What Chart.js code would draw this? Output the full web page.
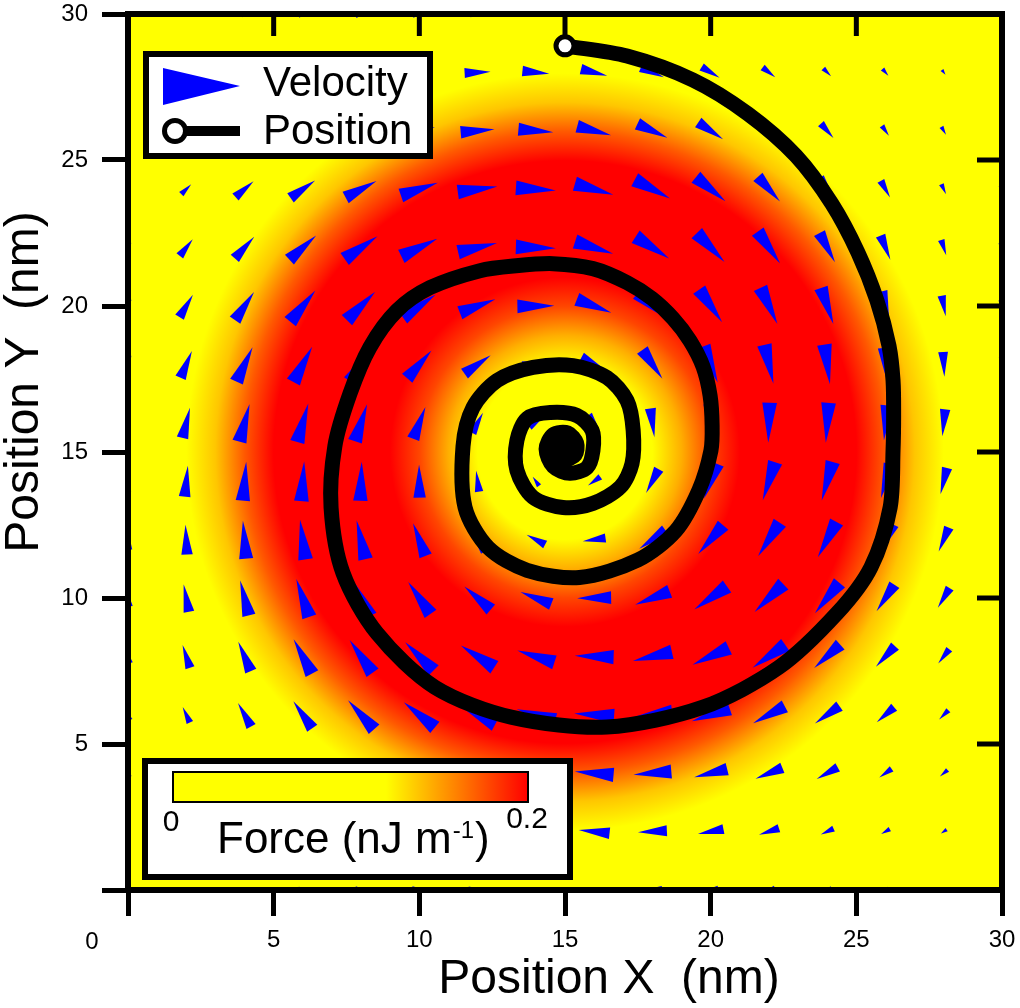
<!DOCTYPE html>
<html>
<head>
<meta charset="utf-8">
<title>Velocity and position</title>
<style>
  html, body { margin: 0; padding: 0; background: #fff; }
  #wrap { width: 1020px; height: 1008px; }
</style>
</head>
<body>
<div id="wrap"><canvas id="chart" width="1020" height="1008"></canvas></div>
<script src="https://cdn.jsdelivr.net/npm/chart.js"></script>
<script>
// axis ticks (nm)
var tickValues = [0, 5, 10, 15, 20, 25, 30];

// velocity grid, rows follow gridY (top to bottom)
var gridX = [0, 2, 4, 6, 8, 10, 12, 14, 16, 18, 20, 22, 24, 26, 28, 30];
var gridY = [30, 28, 26, 24, 22, 20, 18, 16, 14, 12, 10, 8, 6, 4, 2, 0];

// arrow direction, degrees counter-clockwise from +x
var arrowAngle = [
  [35, 31, 26, 21, 15, 8, 1, -6, -14, -21, -28, -35, -41, -46, -51, -55],
  [39, 35, 30, 25, 18, 11, 3, -6, -14, -23, -31, -38, -45, -50, -55, -59],
  [44, 40, 35, 29, 23, 14, 5, -5, -15, -25, -34, -43, -49, -55, -60, -64],
  [49, 45, 41, 35, 28, 19, 8, -4, -16, -28, -39, -48, -55, -61, -65, -69],
  [55, 52, 48, 42, 35, 26, 13, -2, -18, -33, -46, -55, -62, -68, -72, -75],
  [62, 59, 56, 51, 45, 35, 21, 1, -21, -41, -55, -65, -71, -76, -79, -82],
  [69, 67, 65, 62, 57, 49, 35, 8, -28, -55, -69, -77, -82, -85, -87, -89],
  [76, 76, 75, 74, 72, 69, 62, 35, -55, -82, -89, -92, -94, -95, -96, -96],
  [84, 84, 85, 86, 88, 91, 98, 125, -145, -118, -111, -108, -106, -105, -104, -104],
  [91, 93, 95, 98, 103, 111, 125, 152, -172, -145, -131, -123, -118, -115, -113, -111],
  [98, 101, 104, 109, 116, 125, 139, 159, -179, -159, -145, -136, -129, -124, -121, -118],
  [105, 108, 113, 118, 125, 135, 147, 162, 178, -167, -155, -145, -138, -133, -128, -125],
  [111, 115, 119, 125, 132, 141, 152, 164, 176, -172, -161, -152, -145, -139, -135, -131],
  [116, 120, 125, 131, 138, 146, 155, 165, 175, -175, -166, -158, -151, -145, -140, -136],
  [121, 125, 130, 135, 142, 149, 157, 166, 174, -177, -169, -162, -155, -150, -145, -141],
  [125, 129, 134, 139, 145, 152, 159, 166, 174, -179, -172, -165, -159, -154, -149, -145]
];

// arrow speed (a.u.)
var arrowSpeed = [
  [4, 5, 7, 9, 11, 13, 14, 15, 15, 14, 12, 10, 8, 6, 4, 3],
  [5, 7, 10, 13, 18, 23, 26, 27, 27, 25, 21, 16, 11, 9, 6, 4],
  [7, 10, 15, 23, 28, 32, 34, 35, 35, 33, 30, 26, 19, 12, 9, 6],
  [9, 14, 24, 30, 35, 39, 40, 40, 40, 40, 38, 33, 27, 19, 11, 8],
  [12, 21, 29, 36, 40, 40, 40, 40, 40, 40, 40, 39, 33, 26, 16, 10],
  [15, 26, 34, 40, 40, 40, 38, 37, 37, 39, 40, 40, 38, 30, 21, 12],
  [19, 29, 38, 40, 40, 37, 32, 27, 29, 35, 39, 40, 40, 33, 25, 14],
  [21, 31, 39, 40, 39, 34, 23, 15, 19, 29, 37, 40, 40, 35, 27, 15],
  [21, 31, 39, 40, 39, 33, 21, 11, 15, 27, 37, 40, 40, 35, 27, 15],
  [20, 30, 38, 40, 40, 35, 27, 21, 23, 32, 38, 40, 40, 34, 26, 14],
  [17, 28, 36, 40, 40, 39, 35, 33, 34, 37, 40, 40, 39, 32, 23, 13],
  [14, 24, 32, 39, 40, 40, 40, 39, 39, 40, 40, 40, 35, 28, 18, 11],
  [11, 17, 27, 33, 39, 40, 40, 40, 40, 40, 40, 36, 30, 23, 13, 9],
  [8, 12, 19, 27, 32, 36, 38, 39, 39, 38, 34, 29, 24, 15, 10, 7],
  [6, 9, 12, 17, 24, 28, 30, 31, 31, 29, 26, 21, 14, 10, 7, 5],
  [4, 6, 8, 11, 14, 17, 20, 21, 21, 19, 15, 12, 9, 7, 5, 4]
];
var arrowNmPerSpeed = 0.0343;

// core position trace (nm)
var posX = [15.0, 17.13, 19.39, 21.28, 22.93, 24.16, 25.06, 25.71, 26.12, 26.26,
  26.28, 26.26, 26.16, 25.5, 24.34, 22.35, 19.74, 16.44, 13.15, 10.54,
  8.55, 7.38, 6.97, 7.1, 7.62, 8.3, 9.23, 10.37, 12.08, 13.32,
  14.59, 15.96, 17.13, 17.99, 18.71, 19.29, 19.74, 19.98, 20.05, 20.01,
  19.6, 18.8, 17.5, 15.5, 13.7, 12.36, 11.57, 11.5, 11.84, 12.67,
  13.9, 15.28, 16.44, 17.13, 17.34, 17.3, 16.9, 15.96, 14.93, 13.9,
  13.35, 13.35, 13.7, 14.49, 15.41, 15.93, 15.96, 15.76, 15.17, 14.6,
  14.35, 14.6, 15.1, 15.4, 15.35, 15.0, 14.75, 14.95, 15.1];
var posY = [28.91, 28.56, 27.74, 26.58, 25.14, 23.50, 21.82, 20.18, 18.64, 17.45,
  16.25, 15.05, 13.10, 11.05, 9.48, 7.63, 6.26, 5.58, 5.92, 6.94,
  8.79, 10.85, 13.10, 15.2, 17.0, 18.58, 19.84, 20.63, 21.21, 21.38,
  21.45, 21.28, 20.80, 20.25, 19.57, 18.81, 17.92, 16.93, 15.91, 15.05,
  13.7, 12.3, 11.3, 10.7, 10.95, 11.73, 13.1, 15.2, 16.52, 17.45,
  17.9, 17.96, 17.55, 16.76, 15.74, 14.6, 13.8, 13.24, 13.1, 13.45,
  14.37, 15.4, 16.15, 16.35, 16.25, 15.74, 15.05, 14.47, 14.27, 14.5,
  15.1, 15.6, 15.65, 15.3, 14.9, 14.75, 15.0, 15.25, 15.1];

// force magnitude vs distance from the core
var forceCenter = [15, 15];
var forceRadius = [0, 1, 2, 3, 4, 5, 6, 7, 8, 9, 10, 11, 12, 13, 14, 15, 16, 18, 22];
var forceValue = [0, 0.04, 0.08, 0.112, 0.145, 0.178, 0.203, 0.22, 0.225, 0.218, 0.2,
  0.172, 0.138, 0.105, 0.08, 0.06, 0.045, 0.02, 0.005];
var forceMin = 0, forceMax = 0.2;

var FONT = '"Liberation Sans", Arial, sans-serif';
Chart.defaults.font.family = FONT;
Chart.defaults.color = '#000';

function forceColor(f) {
  var t = Math.min(Math.max((f - forceMin) / (forceMax - forceMin), 0), 1);
  var g = t <= 0.6 ? 255 : Math.round(255 * (1 - (t - 0.6) / 0.4));
  return 'rgb(255,' + g + ',0)';
}

var velocityPoints = [];
gridY.forEach(function (y, j) {
  gridX.forEach(function (x, i) {
    velocityPoints.push({ x: x, y: y, a: arrowAngle[j][i], s: arrowSpeed[j][i] });
  });
});
var pathPoints = posX.map(function (x, i) { return { x: x, y: posY[i] }; });

function clipArea(ctx, ca) {
  ctx.beginPath();
  ctx.rect(ca.left, ca.top, ca.right - ca.left, ca.bottom - ca.top);
  ctx.clip();
}

// background force map
var forcePlugin = {
  id: 'forceMap',
  beforeDraw: function (chart) {
    var ctx = chart.ctx, ca = chart.chartArea, xs = chart.scales.x, ys = chart.scales.y;
    var cx = xs.getPixelForValue(forceCenter[0]);
    var cy = ys.getPixelForValue(forceCenter[1]);
    var rMax = forceRadius[forceRadius.length - 1];
    var R = xs.getPixelForValue(forceCenter[0] + rMax) - cx;
    var g = ctx.createRadialGradient(cx, cy, 0, cx, cy, R);
    forceRadius.forEach(function (r, i) { g.addColorStop(r / rMax, forceColor(forceValue[i])); });
    ctx.save();
    clipArea(ctx, ca);
    ctx.fillStyle = g;
    ctx.fillRect(ca.left, ca.top, ca.right - ca.left, ca.bottom - ca.top);
    ctx.restore();
  }
};

// velocity wedges
var arrowPlugin = {
  id: 'arrows',
  afterDatasetDraw: function (chart, args) {
    if (args.index !== 0) return;
    var ctx = chart.ctx, ca = chart.chartArea, xs = chart.scales.x;
    var pxPerNm = xs.getPixelForValue(1) - xs.getPixelForValue(0);
    var data = chart.data.datasets[0].data;
    ctx.save();
    clipArea(ctx, ca);
    ctx.fillStyle = '#0000ff';
    args.meta.data.forEach(function (pt, i) {
      var d = data[i];
      var len = d.s * arrowNmPerSpeed * pxPerNm;
      var w = len * 0.33 + 1.5;
      ctx.save();
      ctx.translate(pt.x, pt.y);
      ctx.rotate(-d.a * Math.PI / 180);
      ctx.beginPath();
      ctx.moveTo(len / 2, 0);
      ctx.lineTo(-len / 2, -w / 2);
      ctx.lineTo(-len / 2, w / 2);
      ctx.closePath();
      ctx.fill();
      ctx.restore();
    });
    ctx.restore();
  }
};

// frame, inner ticks, titles and the two keys
var decorPlugin = {
  id: 'decor',
  afterDraw: function (chart) {
    var ctx = chart.ctx, ca = chart.chartArea, xs = chart.scales.x, ys = chart.scales.y;
    ctx.save();
    ctx.strokeStyle = '#000';
    ctx.lineWidth = 5;
    tickValues.slice(1, -1).forEach(function (v) {
      var px = xs.getPixelForValue(v), py = ys.getPixelForValue(v);
      ctx.beginPath(); ctx.moveTo(px, ca.top); ctx.lineTo(px, ca.top + 22); ctx.stroke();
      ctx.beginPath(); ctx.moveTo(ca.right, py); ctx.lineTo(ca.right - 25, py); ctx.stroke();
    });
    ctx.lineWidth = 6;
    ctx.strokeRect(ca.left, ca.top, ca.right - ca.left, ca.bottom - ca.top);

    // x tick "0" sits left of its tick
    ctx.fillStyle = '#000';
    ctx.font = '24px ' + FONT;
    ctx.textAlign = 'center';
    ctx.textBaseline = 'middle';
    ctx.fillText('0', xs.getPixelForValue(0) - 36, ca.bottom + 52);

    // axis titles
    ctx.font = '48px ' + FONT;
    ctx.textBaseline = 'alphabetic';
    ctx.fillText('Position X  (nm)', 609, 993);
    ctx.save();
    ctx.translate(38, 382);
    ctx.rotate(-Math.PI / 2);
    ctx.fillText('Position Y  (nm)', 0, 0);
    ctx.restore();

    // velocity / position key
    var kx = ca.left + 18, ky = ca.top + 40;
    ctx.fillStyle = '#fff';
    ctx.lineWidth = 6;
    ctx.fillRect(kx, ky, 284, 102);
    ctx.strokeRect(kx, ky, 284, 102);
    ctx.fillStyle = '#0000ff';
    ctx.beginPath();
    ctx.moveTo(kx + 17, ky + 14);
    ctx.lineTo(kx + 94, ky + 32);
    ctx.lineTo(kx + 17, ky + 51);
    ctx.closePath();
    ctx.fill();
    ctx.lineWidth = 10;
    ctx.beginPath(); ctx.moveTo(kx + 29, ky + 77); ctx.lineTo(kx + 94, ky + 77); ctx.stroke();
    ctx.fillStyle = '#fff';
    ctx.lineWidth = 5;
    ctx.beginPath(); ctx.arc(kx + 29, ky + 77, 10.5, 0, 2 * Math.PI); ctx.fill(); ctx.stroke();
    ctx.fillStyle = '#000';
    ctx.font = '42px ' + FONT;
    ctx.textAlign = 'left';
    ctx.fillText('Velocity', kx + 117, ky + 42);
    ctx.fillText('Position', kx + 117, ky + 90);

    // force colour bar key
    var bx = ca.left + 17, by = ca.bottom - 129;
    ctx.fillStyle = '#fff';
    ctx.lineWidth = 6;
    ctx.fillRect(bx, by, 425, 116);
    ctx.strokeRect(bx, by, 425, 116);
    var cbx = bx + 28, cby = by + 11, cbw = 355, cbh = 30;
    var lg = ctx.createLinearGradient(cbx, 0, cbx + cbw, 0);
    for (var k = 0; k <= 20; k++) {
      lg.addColorStop(k / 20, forceColor(forceMin + (forceMax - forceMin) * k / 20));
    }
    ctx.fillStyle = lg;
    ctx.fillRect(cbx, cby, cbw, cbh);
    ctx.lineWidth = 2;
    ctx.strokeRect(cbx, cby, cbw, cbh);
    ctx.fillStyle = '#000';
    ctx.font = '30px ' + FONT;
    ctx.textAlign = 'center';
    ctx.textBaseline = 'middle';
    ctx.fillText(String(forceMin), cbx - 2, by + 62);
    ctx.fillText(String(forceMax), cbx + cbw - 1, by + 59);
    ctx.textAlign = 'left';
    ctx.textBaseline = 'alphabetic';
    ctx.font = '44px ' + FONT;
    var tx = bx + 72, ty = by + 92;
    var t1 = 'Force (nJ m';
    ctx.fillText(t1, tx, ty);
    tx += ctx.measureText(t1).width;
    ctx.font = '24px ' + FONT;
    ctx.fillText('-1', tx + 1, ty - 15);
    tx += ctx.measureText('-1').width + 2;
    ctx.font = '44px ' + FONT;
    ctx.fillText(')', tx, ty);
    ctx.restore();
  }
};

function fixedTicks(scale) {
  scale.ticks = tickValues.map(function (v) { return { value: v }; });
}

new Chart(document.getElementById('chart').getContext('2d'), {
  type: 'scatter',
  data: {
    datasets: [{
      label: 'Velocity',
      data: velocityPoints,
      pointRadius: 0,
      pointHitRadius: 0,
      order: 2
    }, {
      label: 'Position',
      data: pathPoints,
      showLine: true,
      borderColor: '#000',
      borderWidth: 15,
      borderCapStyle: 'round',
      borderJoinStyle: 'round',
      tension: 0.3,
      pointRadius: function (c) { return c.dataIndex === 0 ? 9 : 0; },
      pointBorderWidth: 5,
      pointBackgroundColor: '#fff',
      pointBorderColor: '#000',
      order: 1
    }]
  },
  options: {
    responsive: false,
    animation: false,
    layout: { padding: { top: 13, right: 18, bottom: 0, left: 0 } },
    plugins: { legend: { display: false }, tooltip: { enabled: false } },
    scales: {
      x: {
        type: 'linear', min: 0, max: 30,
        afterBuildTicks: fixedTicks,
        afterFit: function (s) { s.height = 118; s.paddingLeft = 0; s.paddingRight = 0; },
        ticks: {
          font: { size: 24 }, color: '#000', padding: 10, maxRotation: 0, autoSkip: false,
          callback: function (v) { return v === 0 ? '' : String(v); }
        },
        grid: { drawOnChartArea: false, drawTicks: true, tickLength: 26, tickWidth: 5, tickColor: '#000' },
        border: { display: false }
      },
      y: {
        type: 'linear', min: 0, max: 30,
        afterBuildTicks: fixedTicks,
        afterFit: function (s) { s.width = 128; s.paddingTop = 0; s.paddingBottom = 0; },
        ticks: {
          font: { size: 24 }, color: '#000', padding: 14, autoSkip: false,
          callback: function (v) { return v === 0 ? '' : String(v); }
        },
        grid: { drawOnChartArea: false, drawTicks: true, tickLength: 26, tickWidth: 5, tickColor: '#000' },
        border: { display: false }
      }
    }
  },
  plugins: [forcePlugin, arrowPlugin, decorPlugin]
});
</script>
</body>
</html>
